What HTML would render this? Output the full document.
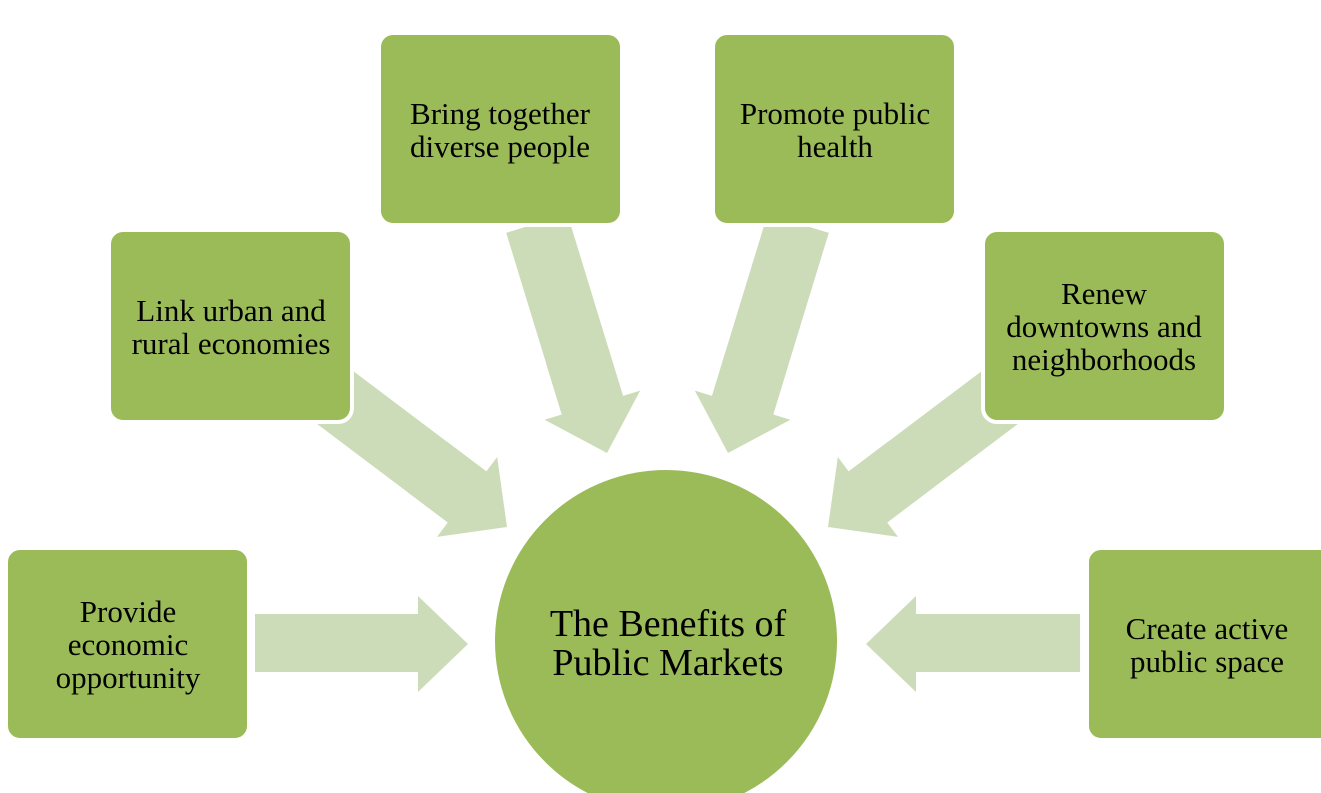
<!DOCTYPE html>
<html><head><style>
html,body{margin:0;padding:0;background:#fff;}
svg{display:block}
text{font-family:"Liberation Serif",serif;fill:#000;}
</style></head><body>
<svg width="1321" height="793" viewBox="0 0 1321 793" xmlns="http://www.w3.org/2000/svg">
<defs>
<polygon id="a" points="0,-32 -50,-32 -50,32 0,32 0,50 50,0 0,-50"/>
</defs>
<g fill="#cddcb8">
<use href="#a" transform="translate(607,453) rotate(73) translate(-50,0)"/>
<polygon transform="translate(607,453) rotate(73)" points="-49,-32 -240,-32 -240,32 -49,32"/>
<polygon transform="translate(728,453) rotate(107)" points="-49,-32 -240,-32 -240,32 -49,32"/>
<use href="#a" transform="translate(728,453) rotate(107) translate(-50,0)"/>
<polygon transform="translate(507,527) rotate(37)" points="-49,-32 -240,-32 -240,32 -49,32"/>
<use href="#a" transform="translate(507,527) rotate(37) translate(-50,0)"/>
<polygon transform="translate(828,527) rotate(143)" points="-49,-32 -240,-32 -240,32 -49,32"/>
<use href="#a" transform="translate(828,527) rotate(143) translate(-50,0)"/>
<polygon points="255,614 418,614 418,596 468,644 418,692 418,672 255,672"/>
<polygon points="1080,614 916,614 916,596 866,644 916,692 916,672 1080,672"/>
</g>
<g fill="#9bbb59" stroke="#fff" stroke-width="4">
<rect x="379" y="33" width="243" height="192" rx="14"/>
<rect x="713" y="33" width="243" height="192" rx="14"/>
<rect x="109" y="230" width="243" height="192" rx="14"/>
<rect x="983" y="230" width="243" height="192" rx="14"/>
<rect x="6" y="548" width="243" height="192" rx="14"/>
<rect x="1087" y="548" width="250" height="192" rx="14"/>
<circle cx="666" cy="641" r="173"/>
</g>
<g font-size="31" text-anchor="middle">
<text x="500" y="124">Bring together</text>
<text x="500" y="157">diverse people</text>
<text x="835" y="124">Promote public</text>
<text x="835" y="157">health</text>
<text x="231" y="321">Link urban and</text>
<text x="231" y="354">rural economies</text>
<text x="1104" y="304">Renew</text>
<text x="1104" y="337">downtowns and</text>
<text x="1104" y="370">neighborhoods</text>
<text x="128" y="622">Provide</text>
<text x="128" y="655">economic</text>
<text x="128" y="688">opportunity</text>
<text x="1207" y="639">Create active</text>
<text x="1207" y="672">public space</text>
<text x="668" y="636" font-size="38">The Benefits of</text>
<text x="668" y="675" font-size="38">Public Markets</text>
</g>
</svg>
</body></html>
